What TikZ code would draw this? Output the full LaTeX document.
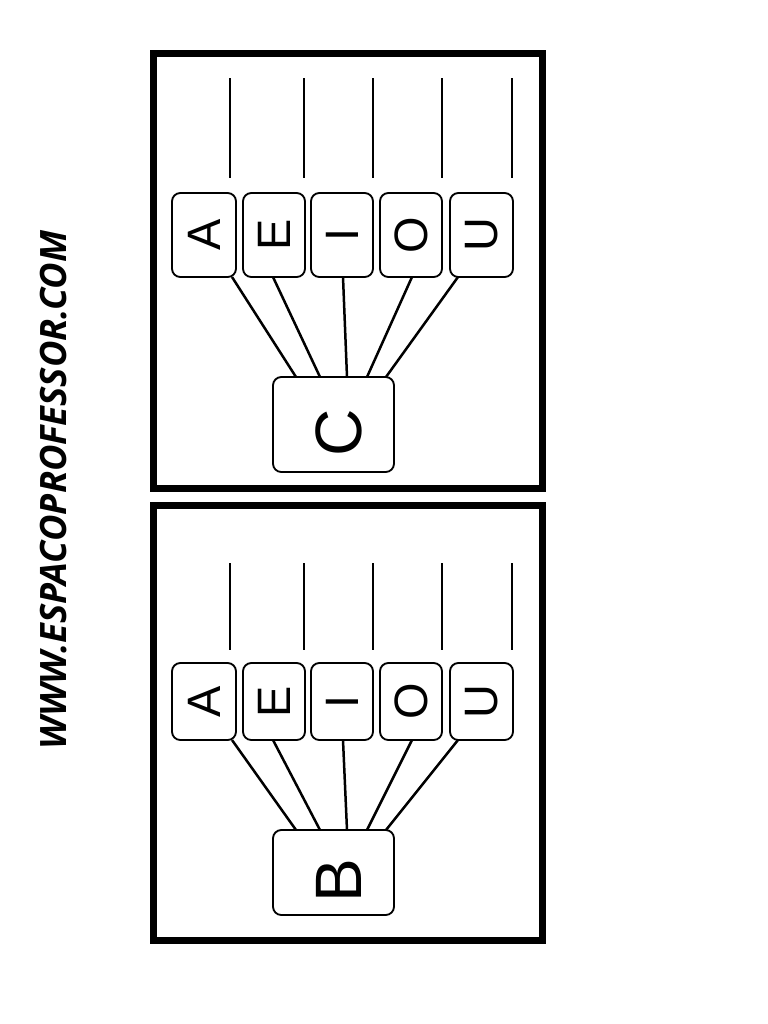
\documentclass[tikz,border=0pt]{standalone}
\usepackage{fontspec}
\setmainfont{Liberation Sans}
\newfontfamily\webfont{Open Sans}
\begin{document}
\begin{tikzpicture}[x=0.03cm,y=-0.03cm,
  frame/.style={line width=2.1mm},
  vbox/.style={draw,line width=0.55mm,rounded corners=2.5mm},
  wire/.style={line width=0.75mm},
  blank/.style={line width=0.7mm},
  lt/.style={rotate=90,font=\fontsize{40}{40}\selectfont},
  bt/.style={rotate=90,font=\fontsize{56}{56}\selectfont}]
\useasboundingbox (0,0) rectangle (768,1024);
\foreach \dy/\L/\by/\bb/\ly/\lb/\cy/\cb in {0/C/193/277/78/178/377/472, 1/B/663/740/563/650/830/915}{
  \draw[frame] (153,{53+452*\dy}) rectangle (542,{488+452*\dy});
  \foreach \n/\a/\b/\lx in {A/172/236/230,E/243/305/304,I/311/373/373,O/380/442/442,U/450/513/512}{
    \draw[vbox] (\a,\by) rectangle (\b,\bb) node[lt,midway] (\n\dy) {\n};
    \draw[blank] (\lx,\ly) -- (\lx,\lb);
  }
  \draw[vbox] (273,\cy) rectangle (394,\cb) node[bt,midway,xshift=-0.25cm,yshift=-0.15cm] (M\dy) {\L};
  \coordinate (cA\dy) at (232,\bb); \coordinate (tA\dy) at (296,\cy);
  \coordinate (cE\dy) at (273,\bb); \coordinate (tE\dy) at (320,\cy);
  \coordinate (cI\dy) at (343,\bb); \coordinate (tI\dy) at (347,\cy);
  \coordinate (cO\dy) at (412,\bb); \coordinate (tO\dy) at (367,\cy);
  \coordinate (cU\dy) at (458,\bb); \coordinate (tU\dy) at (386,\cy);
  \foreach \n in {A,E,I,O,U}{\draw[wire] (c\n\dy) -- (t\n\dy);}
}
\node[rotate=90,font=\webfont\bfseries\itshape\fontsize{31}{31}\selectfont] (web) at (54,490) {WWW.ESPACOPROFESSOR.COM};
\end{tikzpicture}
\end{document}
